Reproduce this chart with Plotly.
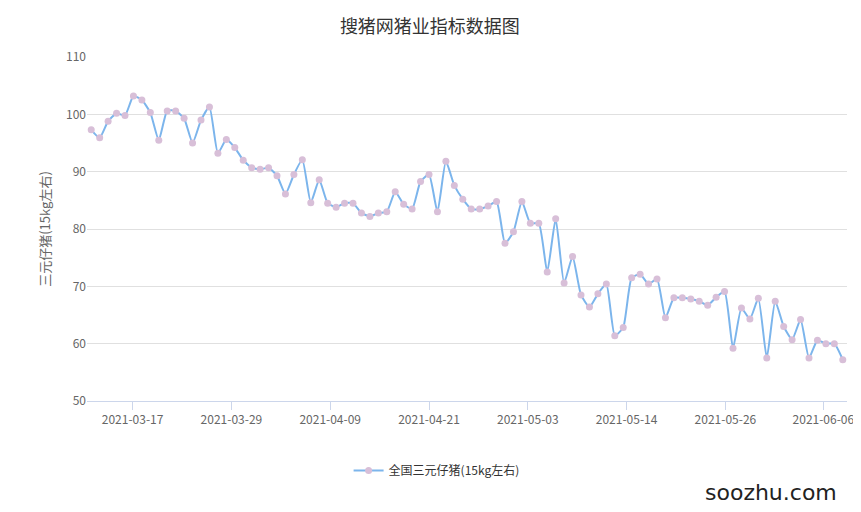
import plotly.graph_objects as go

values = [97.3,95.9,98.8,100.2,99.8,103.2,102.5,100.3,95.5,100.6,100.6,99.3,95,99,101.3,93.2,95.6,94.2,92,90.7,
90.4,90.7,89.3,86.1,89.5,92.1,84.6,88.6,84.5,83.8,84.5,84.5,82.8,82.2,82.8,83,86.5,84.3,83.5,88.3,
89.5,83,91.8,87.6,85.2,83.5,83.5,84,84.8,77.5,79.5,84.8,81,81,72.5,81.8,70.6,75.2,68.5,66.4,
68.7,70.4,61.4,62.8,71.5,72.1,70.4,71.3,64.5,68,68,67.8,67.4,66.7,68.1,69.1,59.2,66.2,64.3,67.9,
57.5,67.4,63,60.7,64.2,57.5,60.6,60,60,57.2]
idx = list(range(len(values)))
tick_pos = [4.9, 16.6, 28.3, 40.0, 51.7, 63.4, 75.1, 86.7]
tick_labels = ["2021-03-17","2021-03-29","2021-04-09","2021-04-21","2021-05-03","2021-05-14","2021-05-26","2021-06-06"]

fig = go.Figure()
fig.add_trace(go.Scatter(x=idx, y=values, mode="lines+markers", name="全国三元仔猪(15kg左右)",
    line=dict(color="#7cb5ec", width=2, shape="spline", smoothing=0.5),
    marker=dict(color="#d8bfd8", size=7)))
fig.update_layout(
    width=861, height=512, paper_bgcolor="white", plot_bgcolor="white",
    margin=dict(l=79, r=22, t=49, b=119, autoexpand=False),
    font=dict(family="Noto Sans CJK SC", color="#666"),
    title=dict(text="搜猪网猪业指标数据图", x=0.49, xanchor="center", y=0.975, yanchor="top",
               font=dict(size=18, color="#333")),
    showlegend=True,
    legend=dict(orientation="h", x=0.46, xanchor="center", y=-0.16, yanchor="top",
                font=dict(size=12, color="#333")),
    xaxis=dict(range=[-0.5, len(values)-0.5], tickvals=tick_pos, ticktext=tick_labels,
               showgrid=False, showline=True, linecolor="#ccd6eb", ticks="outside",
               tickcolor="#ccd6eb", ticklen=8, tickfont=dict(size=12, color="#666"), zeroline=False),
    yaxis=dict(range=[50, 110], dtick=10, gridcolor="#e0e0e0", zeroline=False,
               title=dict(text="三元仔猪(15kg左右)", font=dict(size=13, color="#666"), standoff=12),
               tickfont=dict(size=12, color="#666")),
)
fig.add_annotation(text="soozhu.com", xref="paper", yref="paper", x=0.99, y=-0.225, xanchor="right",
                   yanchor="top", showarrow=False, font=dict(size=22, color="#222", family="DejaVu Sans"))
fig.write_html("out.html")
